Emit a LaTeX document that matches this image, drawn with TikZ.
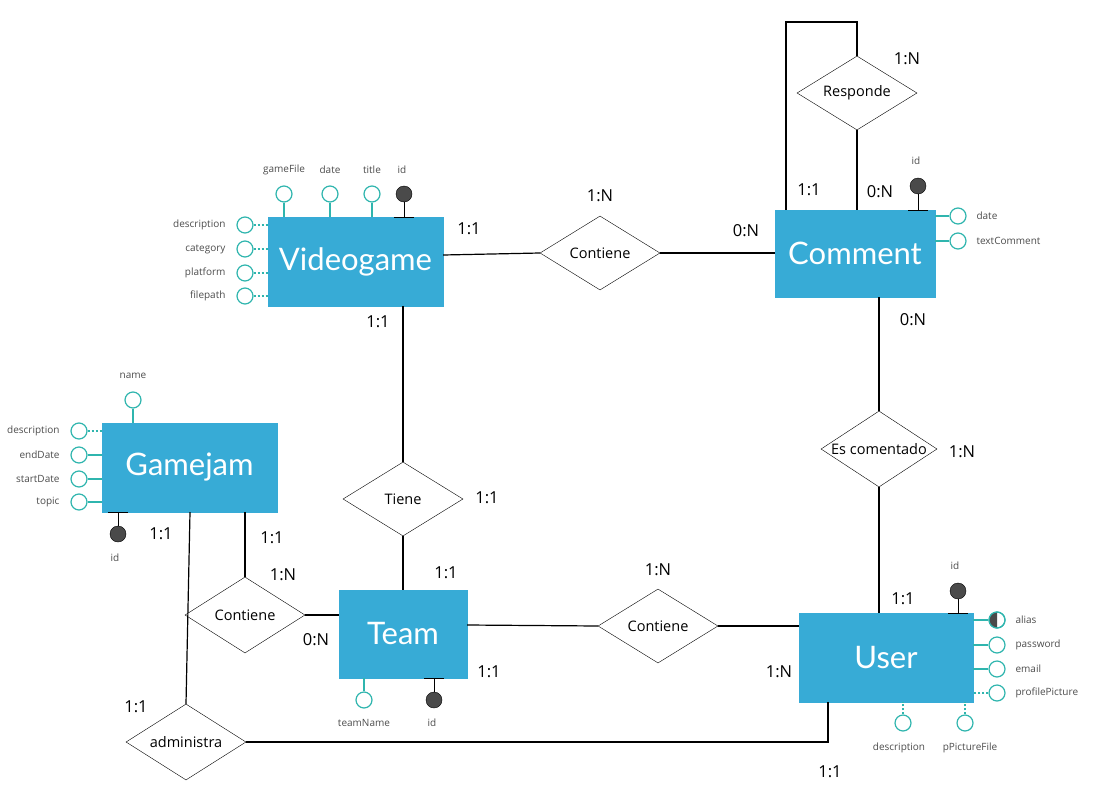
\documentclass[tikz,border=0pt]{standalone}
\usepackage{fontspec}
\setmainfont{Open Sans}
\newfontfamily\lato{Lato}
\usetikzlibrary{shapes.geometric}
\definecolor{ent}{HTML}{37ABD6}
\definecolor{att}{HTML}{2FB5AE}
\definecolor{key}{HTML}{4A4A4A}
\begin{document}
\begin{tikzpicture}[x=1pt,y=-1pt,
  ent/.style={fill=ent,draw=ent,text=white,font=\lato\fontsize{31}{31}\selectfont,inner sep=0},
  rel/.style={diamond,draw,fill=white,aspect=1.62,inner sep=0,font=\fontsize{14.5}{14.5}\selectfont},
  card/.style={font=\fontsize{16.5}{16.5}\selectfont},
  ao/.style={circle,draw=att,line width=1.2pt,fill=white,minimum size=16,inner sep=0},
  ak/.style={circle,draw=black,fill=key,minimum size=16,inner sep=0},
  al/.style={font=\fontsize{10}{10}\selectfont,text=black!70},
  sl/.style={draw=att,line width=1.2pt},
  dl/.style={draw=att,line width=1.2pt,dash pattern=on 2pt off 2pt},
  ln/.style={draw,line width=1.2pt}]
\useasboundingbox (0,0) rectangle (1105,800);
% entities
\node[ent,minimum width=175,minimum height=89] (vg) at (355.5,261.5) {Videogame};
\node[ent,minimum width=160,minimum height=87] (cm) at (855,253.5) {Comment};
\node[ent,minimum width=175,minimum height=89] (gj) at (189.5,467.5) {Gamejam};
\node[ent,minimum width=128,minimum height=88] (tm) at (403,634) {Team};
\node[ent,minimum width=174,minimum height=89] (us) at (886,657.5) {User};
% relations
\node[rel,minimum width=120,minimum height=74] (r1) at (600,253) {Contiene};
\node[rel,minimum width=120,minimum height=74] (r2) at (857,93) {Responde};
\node[rel,minimum width=116,minimum height=76] (r3) at (879,449) {Es comentado};
\node[rel,minimum width=120,minimum height=74] (r4) at (403,499) {Tiene};
\node[rel,minimum width=120,minimum height=76] (r5) at (245,615) {Contiene};
\node[rel,minimum width=120,minimum height=74] (r6) at (658,626) {Contiene};
\node[rel,minimum width=120,minimum height=76] (r7) at (186,742) {administra};
\coordinate (c1) at (786,22); \coordinate (c2) at (857,22); \coordinate (c3) at (828,742);
% connectors
\draw[ln] (vg.east|-0,255) -- (r1.west);
\draw[ln] (r1.east) -- (cm.west|-r1);
\draw[ln] (cm.north-|c1) -- (c1) -- (c2) -- (r2.north);
\draw[ln] (r2.south) -- (cm.north-|r2);
\draw[ln] (cm.south-|r3) -- (r3.north);
\draw[ln] (r3.south) -- (us.north-|r3);
\draw[ln] (vg.south-|r4) -- (r4.north);
\draw[ln] (r4.south) -- (tm.north);
\draw[ln] (gj.south-|r5) -- (r5.north);
\draw[ln] (r5.east) -- (tm.west|-r5);
\draw[ln] (tm.east|-0,625) -- (r6.west);
\draw[ln] (r6.east) -- (us.west|-r6);
\draw[ln] (gj.south-|190,0) -- (r7.north);
\draw[ln] (r7.east) -- (c3) -- (us.south-|c3);
% cardinalities
\foreach \t/\x/\y in {1:1/469/229,1:N/600/196,0:N/746/231,1:N/907/59,1:1/809/190,0:N/880/192,1:1/378/322,0:N/913/320,1:N/962/452,1:1/487/498,1:1/446/573,1:1/161/534,1:1/272/538,1:N/283/575,0:N/316/640,1:N/658/570,1:1/903/599,1:N/779/672,1:1/489/672,1:1/136/707,1:1/830/772}
  \node[card] at (\x,\y) {\t};
% Videogame attributes
\foreach \n/\x in {gameFile/284,date/330,title/372}{
  \node[ao] (vg\n) at (\x,194) {}; \draw[sl] (vg\n) -- (\x,217);
  \node[al] at (\x,170) {\n};}
\node[ak] (vgid) at (404,194) {}; \draw[line width=1pt] (vgid) -- (404,217) (394,217) -- (414,217);
\node[al] at (402,170) {id};
\foreach \n/\y in {description/225,category/249,platform/273,filepath/296}{
  \node[ao] (vga\n) at (245,\y) {}; \draw[dl] (vga\n) -- (268,\y);
  \node[al,anchor=east] at (229,\y) {\n};}
% Comment attributes
\node[ak] (cmid) at (918,186) {}; \draw[line width=1pt] (cmid) -- (918,210) (908,210) -- (928,210);
\node[al] at (916,161) {id};
\foreach \n/\y in {date/216,textComment/241}{
  \node[ao] (cm\n) at (958,\y) {}; \draw[sl] (cm\n) -- (935,\y);
  \node[al,anchor=west] at (973,\y) {\n};}
% Gamejam attributes
\node[ao] (gjname) at (133,400) {}; \draw[sl] (gjname) -- (133,423);
\node[al] at (133,376) {name};
\node[ao] (gjd) at (79,431) {}; \draw[dl] (gjd) -- (102,431);
\node[al,anchor=east] at (63,431) {description};
\foreach \n/\y in {endDate/455,startDate/479,topic/502}{
  \node[ao] (gj\n) at (79,\y) {}; \draw[sl] (gj\n) -- (102,\y);
  \node[al,anchor=east] at (63,\y) {\n};}
\node[ak] (gjid) at (118,534) {}; \draw[line width=1pt] (gjid) -- (118,512) (108,512) -- (128,512);
\node[al] at (115,558) {id};
% Team attributes
\node[ao] (tmn) at (364,700) {}; \draw[sl] (tmn) -- (364,678);
\node[al] at (364,723) {teamName};
\node[ak] (tmid) at (434,700) {}; \draw[line width=1pt] (tmid) -- (434,678) (424,678) -- (444,678);
\node[al] at (432,723) {id};
% User attributes
\node[ak] (usid) at (958,591) {}; \draw[line width=1pt] (usid) -- (958,613) (948,613) -- (968,613);
\node[al] at (955,566) {id};
\node[ao] (usal) at (997,620) {}; \draw[sl] (usal) -- (973,620);
\begin{scope}
\clip (985,608) rectangle (997,632);
\fill[key] (997,620) circle (8);
\end{scope}
\draw[att,line width=1.2pt] (997,620) circle (8);
\node[al,anchor=west] at (1012,620) {alias};
\foreach \n/\y in {password/645,email/669}{
  \node[ao] (us\n) at (997,\y) {}; \draw[sl] (us\n) -- (973,\y);
  \node[al,anchor=west] at (1012,\y) {\n};}
\node[ao] (uspp) at (997,693) {}; \draw[dl] (uspp) -- (973,693);
\node[al,anchor=west] at (1012,693) {profilePicture};
\node[ao] (usde) at (903,723) {}; \draw[dl] (usde) -- (903,702);
\node[al] at (899,748) {description};
\node[ao] (uspf) at (965,723) {}; \draw[dl] (uspf) -- (965,702);
\node[al] at (970,748) {pPictureFile};
\end{tikzpicture}
\end{document}
